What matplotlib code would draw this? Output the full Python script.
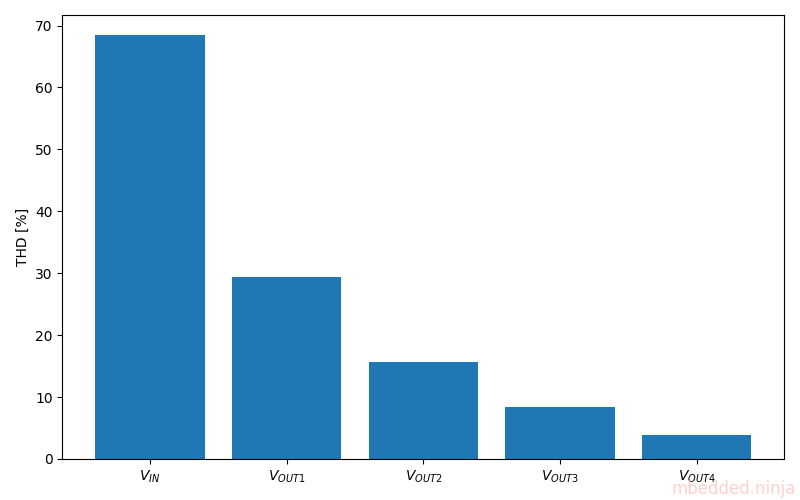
import matplotlib
matplotlib.use("Agg")
import matplotlib.pyplot as plt

labels = ["$V_{IN}$", "$V_{OUT1}$", "$V_{OUT2}$", "$V_{OUT3}$", "$V_{OUT4}$"]
thd = [68.4, 29.4, 15.7, 8.4, 3.9]

fig = plt.figure(figsize=(8, 5), dpi=100)
ax = fig.add_axes([0.078, 0.082, 0.902, 0.888])
ax.bar(labels, thd, color="#1f77b4", width=0.8)
ax.set_ylabel("THD [%]")
ax.set_ylim(0, 71.7)
fig.text(0.995, 0.005, "mbedded.ninja", ha="right", va="bottom", color="#ffb0b0", alpha=0.6, fontsize=12)
fig.savefig("out.png", dpi=100)
